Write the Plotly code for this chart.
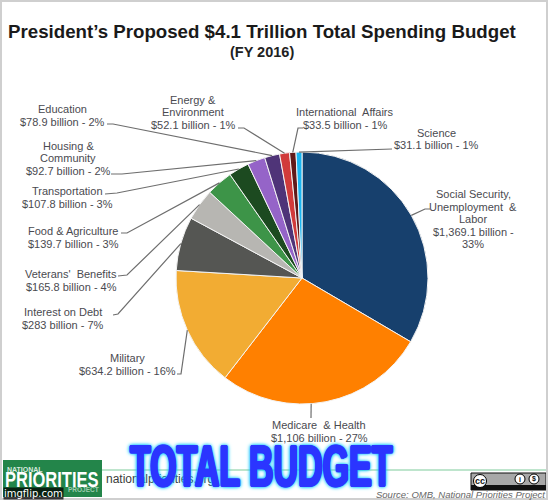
import math
import plotly.graph_objects as go

W, H = 548, 500
categories = ["Social Security, Unemployment & Labor", "Medicare & Health", "Military", "Interest on Debt",
              "Veterans' Benefits", "Food & Agriculture", "Transportation", "Housing & Community",
              "Education", "Energy & Environment", "International Affairs", "Science"]
values = [1369.1, 1106, 634.2, 283, 165.8, 139.7, 107.8, 92.7, 78.9, 52.1, 33.5, 31.1]
colors = ["#17406d", "#ff8000", "#f2ac33", "#555653", "#b7b6b2", "#3d9448",
          "#1c4a20", "#9564c8", "#4f3478", "#d13b3b", "#611a1a", "#19b5f2"]
label_lines = [
    ["Social Security,", "Unemployment  &", "Labor", "$1,369.1 billion -", "33%"],
    ["Medicare  & Health", "$1,106 billion - 27%"],
    ["Military", "$634.2 billion - 16%"],
    ["Interest on Debt", "$283 billion - 7%"],
    ["Veterans'  Benefits", "$165.8 billion - 4%"],
    ["Food & Agriculture", "$139.7 billion - 3%"],
    ["Transportation", "$107.8 billion - 3%"],
    ["Housing &", "Community", "$92.7 billion - 2%"],
    ["Education", "$78.9 billion - 2%"],
    ["Energy &", "Environment", "$52.1 billion - 1%"],
    ["International  Affairs", "$33.5 billion - 1%"],
    ["Science", "$31.1 billion - 1%"],
]
# layout of the label blocks: centre x, first line y
label_pos = [(473, 194), (319, 425), (127, 358), (63, 312), (71, 274), (73, 231),
             (67, 191), (68, 146), (62, 109), (193, 100), (345, 112), (436, 133)]
# leader line: label-side point, elbow
leader_pts = [((430, 209), (425, 209)), ((311, 418), (311, 418)), ((177, 374), (181, 374)),
              ((113, 315), (118, 314)), ((118, 276), (127, 275)), ((121, 233), (127, 233)),
              ((105, 194), (117, 193)), ((111, 174), (122, 174)), ((107, 124), (113, 124)),
              ((238, 128), (244, 128)), ((303, 128), (298, 128)), ((392, 149), (392, 149))]
# where in its slice each leader lands (0..1)
leader_frac = [0.5, 0.57, 0.5, 0.5, 0.5, 0.5, 0.5, 0.5, 0.5, 0.5, 0.5, 0.5]

CX, CY, R = 302, 278, 126
px = lambda x: x / W
py = lambda y: 1 - y / H
total = sum(values)

fig = go.Figure(go.Pie(
    labels=categories, values=values, sort=False, direction="clockwise", rotation=0,
    textinfo="none", showlegend=False, hoverinfo="label+value",
    marker=dict(colors=colors, line=dict(color="#f4f4f4", width=1)),
    domain=dict(x=[px(CX - R), px(CX + R)], y=[py(CY + R), py(CY - R)]),
))

shapes, ann = [], []
TXT = "#4a4a50"
SANS = "Liberation Sans"


def text(x, y, s, size=11, color=TXT, anchor="center", bold=False, italic=False, family=SANS, **kw):
    ann.append(dict(x=px(x), y=py(y), xref="paper", yref="paper", text=f"<b>{s}</b>" if bold else (f"<i>{s}</i>" if italic else s),
                    showarrow=False, xanchor=anchor, yanchor="middle",
                    font=dict(family=family, size=size, color=color),
                    borderpad=0, **kw))


def rect(x0, y0, x1, y1, fill=None, line=None, lw=1):
    shapes.append(dict(type="rect", xref="paper", yref="paper", x0=px(x0), x1=px(x1), y0=py(y0), y1=py(y1),
                       fillcolor=fill or "rgba(0,0,0,0)", line=dict(color=line or "rgba(0,0,0,0)", width=lw if line else 0)))


def circle(cx, cy, r, fill, line="#000000", lw=1):
    shapes.append(dict(type="circle", xref="paper", yref="paper", x0=px(cx - r), x1=px(cx + r), y0=py(cy + r), y1=py(cy - r),
                       fillcolor=fill, line=dict(color=line, width=lw)))


# leaders, derived from the slice angles
cum = 0
for v, f, (p0, p1) in zip(values, leader_frac, leader_pts):
    a = 2 * math.pi * (cum + v * f) / total
    cum += v
    ex, ey = CX + R * math.sin(a), CY - R * math.cos(a)
    path = f"M {px(p0[0])} {py(p0[1])} L {px(p1[0])} {py(p1[1])} L {px(ex)} {py(ey)}"
    shapes.append(dict(type="path", xref="paper", yref="paper", path=path, line=dict(color="#6e6e6e", width=1.2)))

for lines, (x, y) in zip(label_lines, label_pos):
    for i, line in enumerate(lines):
        text(x, y + i * 12.5, line)

text(262, 31, "President’s Proposed $4.1 Trillion Total Spending Budget", size=18.7, color="#1a1a1a", bold=True)
text(262, 52, "(FY 2016)", size=14.5, color="#222222", bold=True)

# footer
shapes.append(dict(type="line", xref="paper", yref="paper", x0=px(102), x1=px(546), y0=py(470), y1=py(470),
                   line=dict(color="#a9dcbd", width=1.5)))
rect(3, 460, 102, 497, fill="#23854a")
text(6, 469, "NATIONAL", size=7, color="#d8eadf", anchor="left", bold=True)
text(52, 479, "PRIORITIES", size=16.5, color="#ffffff", bold=True)
text(100, 489, "PROJECT", size=6.5, color="#9fcdb0", anchor="right", bold=True)
text(105, 479, "nationalpriorities.org", size=12, color="#3c3c3c", anchor="left")
text(546, 494, "Source: OMB, National Priorities Project", size=9.5, color="#666666", anchor="right", italic=True)
rect(471, 473, 546, 490, fill="#a8a8a8", line="#111111")
rect(471, 485, 546, 490, fill="#111111")
circle(480, 481, 6.5, "#ffffff")
text(480, 481, "cc", size=9, color="#111111", bold=True)
circle(520, 479, 5, "#ffffff")
circle(534, 479, 5, "#ffffff")
text(520, 479, "i", size=7, color="#111111", bold=True)
text(534, 479, "$", size=7, color="#111111", bold=True)
rect(1, 1, 547, 499, line="#cfcfcf", lw=2)

glow = ("1.5px 0 0 #2b35ff, -1.5px 0 0 #2b35ff, 0.8px 0.8px 0 #2b35ff, -0.8px -0.8px 0 #2b35ff, "
        "0.8px -0.8px 0 #2b35ff, -0.8px 0.8px 0 #2b35ff, "
        "0 0 3px #14c8ff, 0 0 4px #14c8ff, 0 0 5px #14c8ff, 0 0 6px #14c8ff")
ann.append(dict(x=px(261), y=py(466), xref="paper", yref="paper", text="<b>TOTAL BUDGET</b>", showarrow=False,
                xanchor="center", yanchor="middle",
                font=dict(family=SANS, size=34, color="#2b35ff", shadow=glow)))
ann.append(dict(x=px(3), y=py(493), xref="paper", yref="paper", text="imgflip.com", showarrow=False,
                xanchor="left", yanchor="middle", bgcolor="rgba(0,0,0,0.75)", borderpad=0,
                font=dict(family="DejaVu Sans", size=10, color="#ffffff")))

fig.update_layout(width=W, height=H, autosize=False, margin=dict(l=0, r=0, t=0, b=0),
                  paper_bgcolor="#ffffff", plot_bgcolor="#ffffff", shapes=shapes, annotations=ann)

post = """
document.body.style.margin='0';document.body.style.overflow='hidden';
function stretch(label, sy){
  document.querySelectorAll('.annotation-text').forEach(function(t){
    if(t.textContent===label){
      var b=t.getBBox(), cy=b.y+b.height/2;
      t.setAttribute('transform','translate(0,'+cy+') scale(1,'+sy+') translate(0,'+(-cy)+')');
    }
  });
}
function applyAll(){stretch('TOTAL BUDGET',1.7);stretch('PRIORITIES',1.3);}
applyAll();setTimeout(applyAll,30);setTimeout(applyAll,200);
"""
fig.write_html("out.html", config=dict(displayModeBar=False), post_script=post)
